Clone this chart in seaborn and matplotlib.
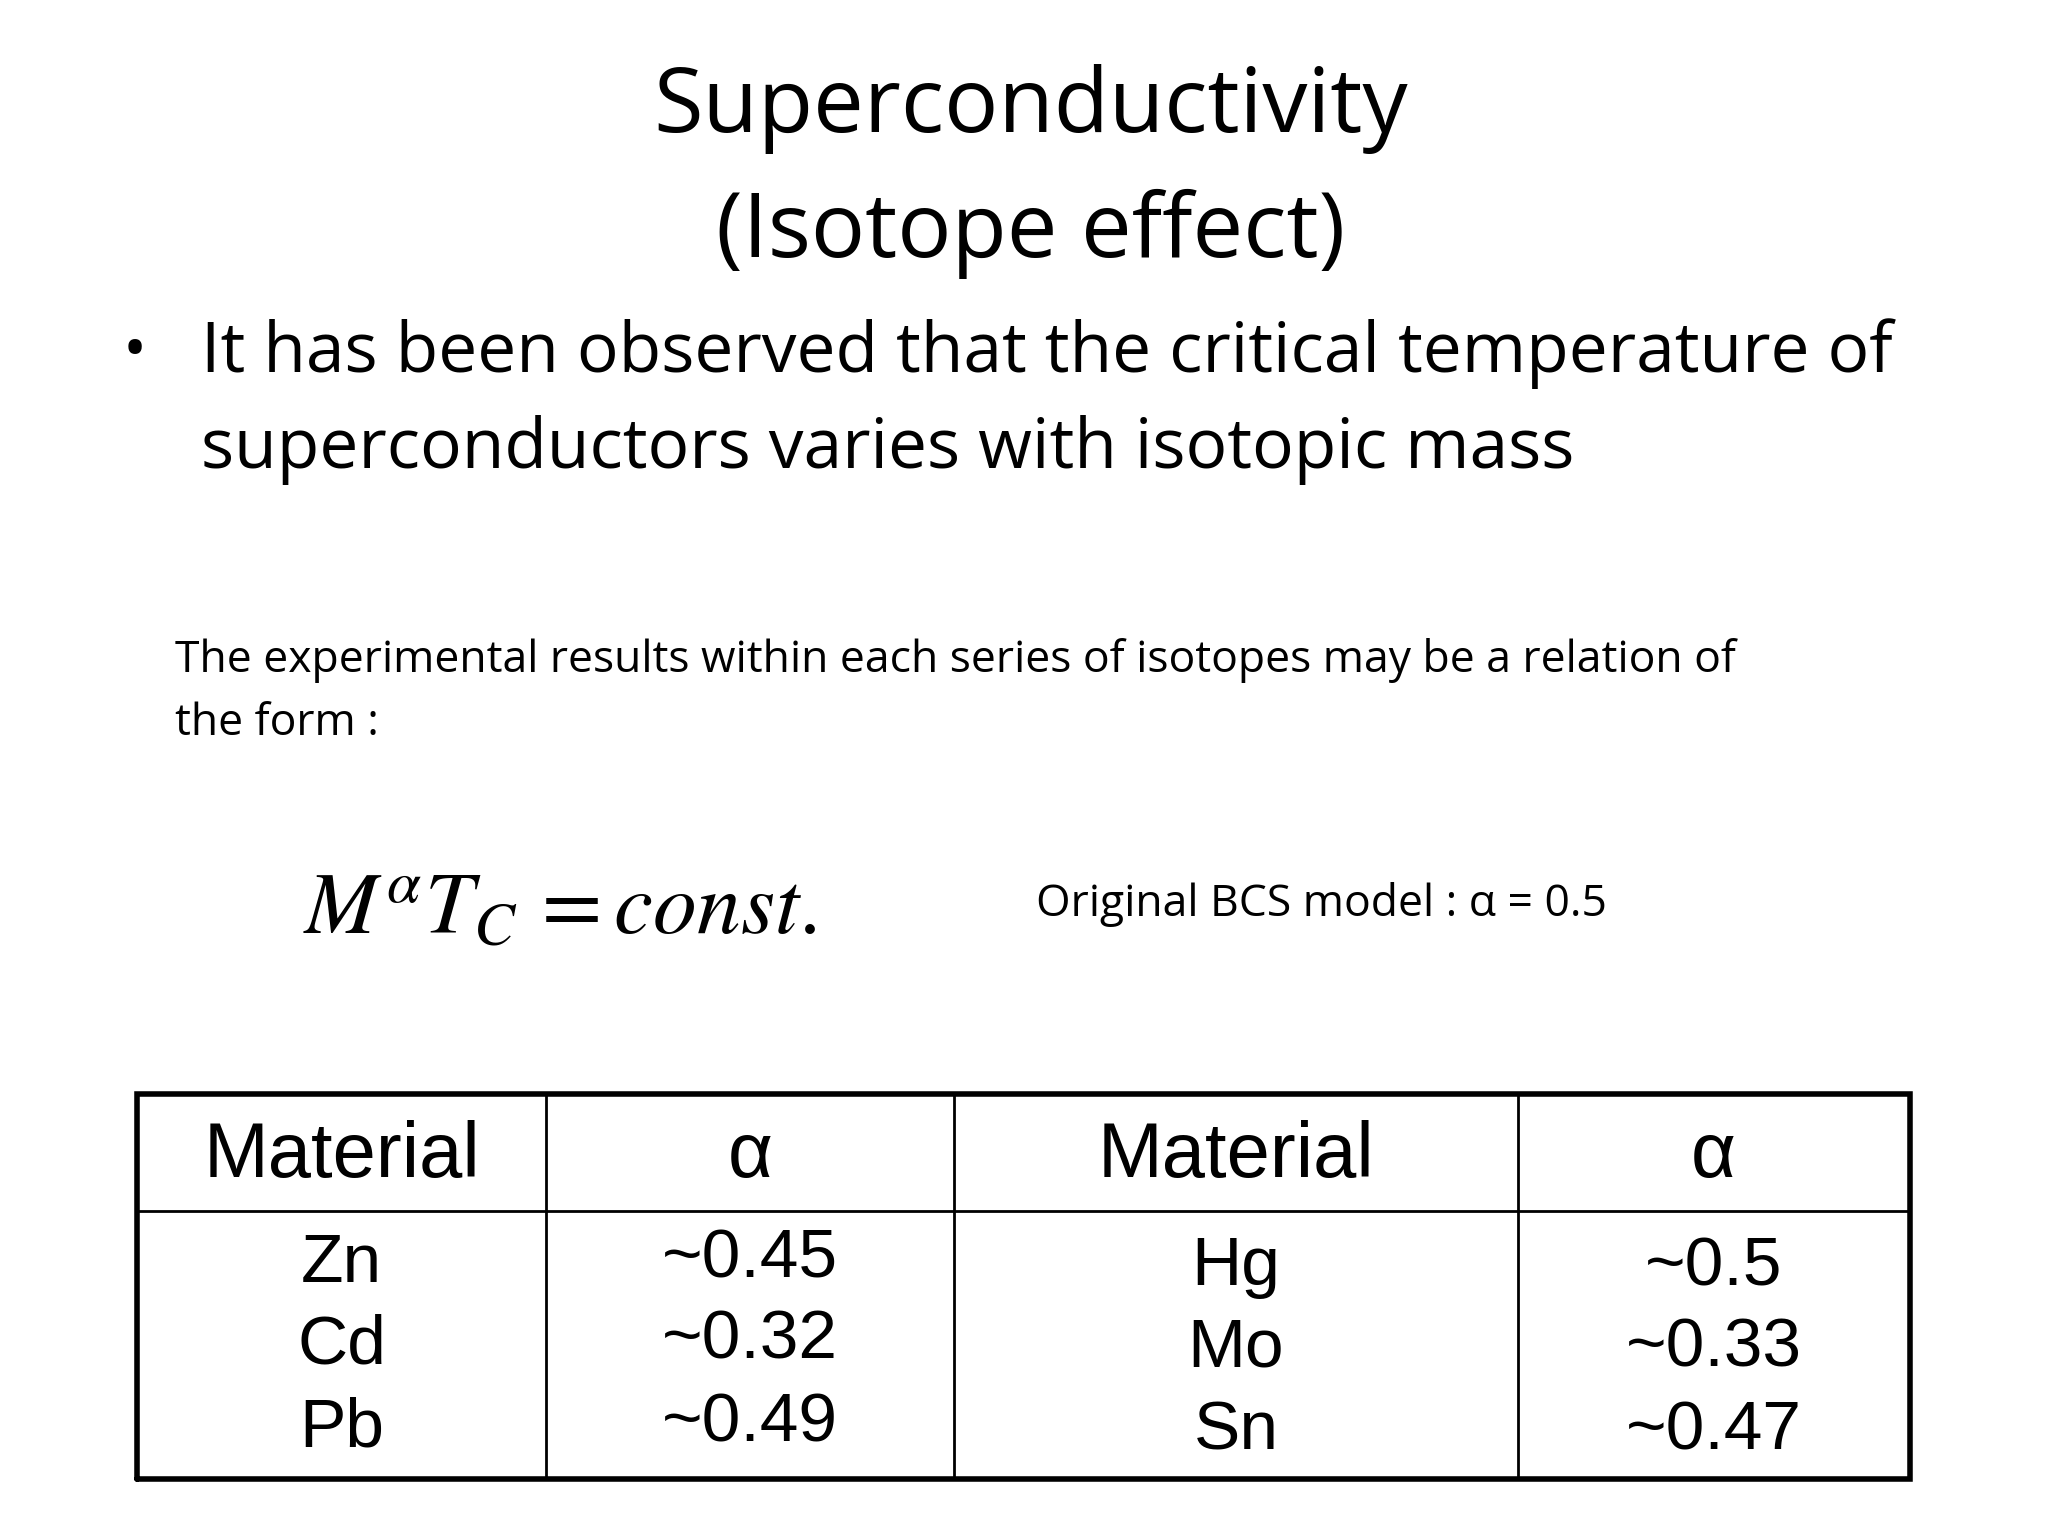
import matplotlib
matplotlib.use("Agg")
import matplotlib.pyplot as plt
import seaborn as sns
import pandas as pd

sns.set_theme(style="white")
plt.rcParams['font.family'] = ['Open Sans', 'DejaVu Sans']
plt.rcParams['mathtext.fontset'] = 'stix'
plt.rcParams['text.color'] = 'black'

title = ["Superconductivity", "(Isotope effect)"]
bullet = ["It has been observed that the critical temperature of",
          "superconductors varies with isotopic mass"]
para = ["The experimental results within each series of isotopes may be a relation of",
        "the form :"]
materials_left = ["Zn", "Cd", "Pb"]
alpha_left = ["~0.45", "~0.32", "~0.49"]
materials_right = ["Hg", "Mo", "Sn"]
alpha_right = ["~0.5", "~0.33", "~0.47"]
headers = ["Material", "α", "Material", "α"]
df = pd.DataFrame({"m1": materials_left, "a1": alpha_left, "m2": materials_right, "a2": alpha_right})

fig = plt.figure(figsize=(20.48, 15.36), dpi=100)
ax = fig.add_axes([0, 0, 1, 1])
ax.set_xlim(0, 1); ax.set_ylim(0, 1); ax.axis('off')

ax.text(0.503, 0.929, title[0], ha='center', va='center', fontsize=65)
ax.text(0.503, 0.848, title[1], ha='center', va='center', fontsize=65)
ax.text(0.060, 0.770, "•", ha='left', va='center', fontsize=46)
ax.text(0.098, 0.770, bullet[0], ha='left', va='center', fontsize=50)
ax.text(0.098, 0.707, bullet[1], ha='left', va='center', fontsize=50)
ax.text(0.0855, 0.570, para[0], ha='left', va='center', fontsize=32)
ax.text(0.0855, 0.529, para[1], ha='left', va='center', fontsize=32)
ax.text(0.148, 0.407, r'$M^{\alpha}T_C\, = const.$', ha='left', va='center', fontsize=63)
ax.text(0.506, 0.411, "Original BCS model : α = 0.5", ha='left', va='center', fontsize=32)

# table
L, R, T, HB, B = 0.0668, 0.9325, 0.288, 0.2117, 0.0368
cols = [L, 0.2667, 0.466, 0.741, R]
ax.plot([L, R, R, L, L], [B, B, T, T, B], color='black', lw=4, solid_joinstyle='miter')
ax.plot([L, R], [HB, HB], color='black', lw=2)
for c in cols[1:-1]:
    ax.plot([c, c], [B, T], color='black', lw=2)
centers = [(cols[i] + cols[i+1]) / 2 for i in range(4)]
tf = ['Liberation Sans', 'DejaVu Sans']
for i, h in enumerate(headers):
    ax.text(centers[i], 0.247, h, ha='center', va='center', fontsize=56, family=tf)
rows_y = [[0.177, 0.124, 0.070], [0.180, 0.127, 0.073], [0.175, 0.122, 0.068], [0.175, 0.122, 0.068]]
for i, col in enumerate(df.columns):
    for j, v in enumerate(df[col]):
        ax.text(centers[i], rows_y[i][j], v, ha='center', va='center', fontsize=50, family=tf)

fig.savefig("out.png", dpi=100, facecolor='white')
